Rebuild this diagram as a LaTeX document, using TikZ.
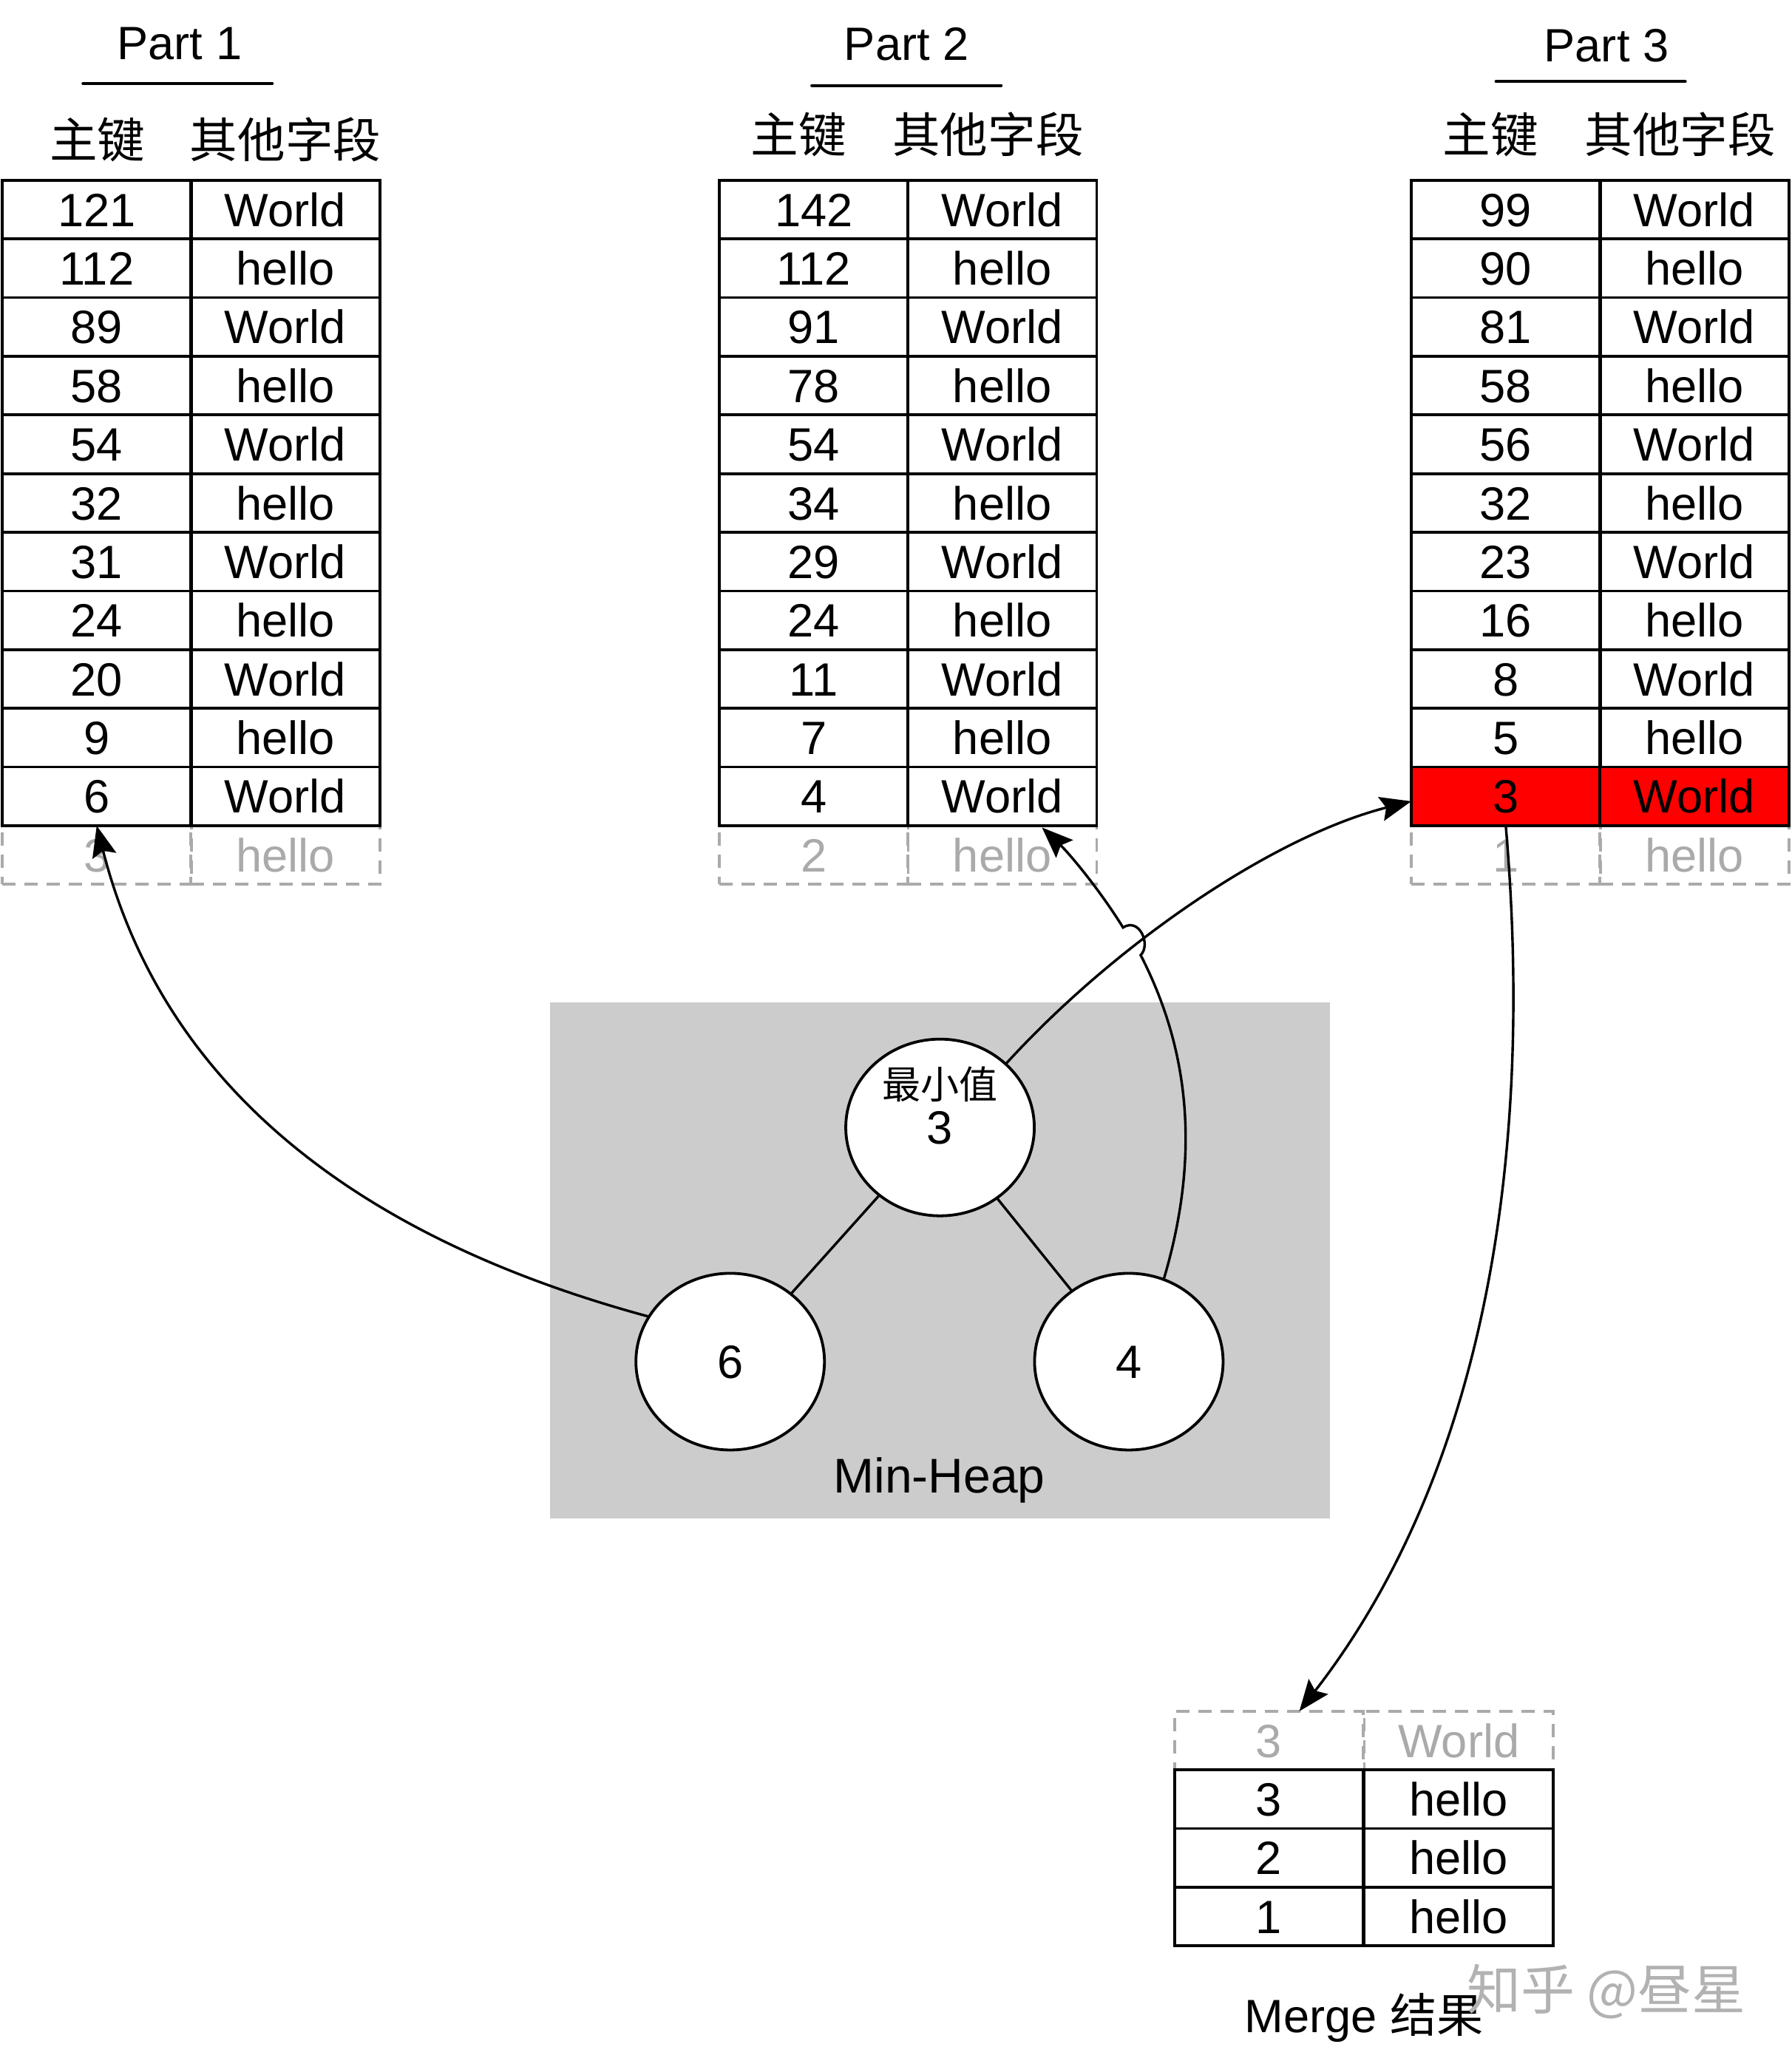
\documentclass[tikz,border=0pt]{standalone}
\usepackage{fontspec}
\setmainfont{Liberation Sans}
\newfontfamily\cjk{Noto Sans CJK SC}
\usetikzlibrary{arrows.meta,shapes.geometric}

\definecolor{gray1}{HTML}{AAAAAA}
\definecolor{heapgray}{HTML}{CCCCCC}
\tikzset{
  txt/.style={inner sep=0pt,outer sep=0pt,font=\fontsize{31.6}{36}\selectfont,text height=22.7pt,text depth=0pt},
  head/.style={txt,font=\fontsize{32.3}{36}\selectfont\cjk},
  cell/.style={txt,draw=black,line width=1.9pt,minimum width=127.8pt,minimum height=39.7pt},
  ghost/.style={cell,draw=gray1,text=gray1,dash pattern=on 9pt off 6pt},
  heapnode/.style={txt,ellipse,draw=black,fill=white,line width=1.9pt,minimum width=127.5pt,minimum height=119.5pt},
  title rule/.style={line width=1.9pt,line cap=round},
  conn/.style={line width=1.7pt},
  arr/.style={conn,-{Stealth[length=21pt,width=16.5pt,inset=3.5pt]}},
  row3-11/.style={fill=red},
}

% one part table: id, left edge, keys of the solid rows, key of the dashed row
\newcommand{\parttable}[4]{
  \node[ghost] (p#1k12) at ({#2+71.5},{137+11.5*44.6}) {#4};
  \node[ghost] (p#1v12) at ({#2+214.8},{137+11.5*44.6}) {hello};
  \foreach \k [count=\i] in {#3} {
    \ifodd\i \def\v{World}\else \def\v{hello}\fi
    \node[cell,row#1-\i/.try] (p#1k\i) at ({#2+71.5},{137+(\i-0.5)*44.6}) {\k};
    \node[cell,row#1-\i/.try] (p#1v\i) at ({#2+214.8},{137+(\i-0.5)*44.6}) {\v};
  }
}

\begin{document}
\begin{tikzpicture}[x=0.88985pt,y=-0.88985pt]
  \useasboundingbox (0,0) rectangle (1362,1566.6);

  % part titles and column heads
  \node[txt] (t1) at (136.5,32.5) {Part 1};
  \node[txt] (t2) at (689,33) {Part 2};
  \node[txt] (t3) at (1221,34) {Part 3};
  \draw[title rule] (63,63.5) -- (207,63.5);
  \draw[title rule] (617,65) -- (761,65);
  \draw[title rule] (1137,62) -- (1281,62);
  \node[head] (h1a) at (74,107) {主键};
  \node[head] (h1b) at (217,107) {其他字段};
  \node[head] (h2a) at (607,103) {主键};
  \node[head] (h2b) at (751,103) {其他字段};
  \node[head] (h3a) at (1133,103) {主键};
  \node[head] (h3b) at (1277,103) {其他字段};

  \parttable{1}{2}{121,112,89,58,54,32,31,24,20,9,6}{3}
  \parttable{2}{547}{142,112,91,78,54,34,29,24,11,7,4}{2}
  \parttable{3}{1073}{99,90,81,58,56,32,23,16,8,5,3}{1}

  % heap
  \fill[heapgray] (418,762) rectangle (1011,1154);
  \node[heapnode] (top) at (714.5,857) {};
  \node[heapnode] (left) at (555,1035) {6};
  \node[heapnode] (right) at (858,1035) {4};
  \node[txt,font=\fontsize{26}{30}\selectfont\cjk,text height=18.7pt] (minlabel) at (714.5,825) {最小值};
  \node[txt] (minval) at (714,857) {3};
  \node[txt,font=\fontsize{33}{36}\selectfont] (heaplabel) at (714,1122) {Min-Heap};
  \draw[conn] (top) -- (left);
  \draw[conn] (top) -- (right);

  % merge result
  \node[ghost] (m1k) at (964.5,1323) {3};
  \node[ghost] (m1v) at (1108.8,1323) {World};
  \node[cell] (m2k) at (964.5,1367.5) {3};
  \node[cell] (m2v) at (1108.8,1367.5) {hello};
  \node[cell] (m3k) at (964.5,1412.2) {2};
  \node[cell] (m3v) at (1108.8,1412.2) {hello};
  \node[cell] (m4k) at (964.5,1456.8) {1};
  \node[cell] (m4v) at (1108.8,1456.8) {hello};
  \node[txt] (mergelabel) at (1037,1532) {Merge {\cjk 结果}};
  \node[txt,font=\fontsize{36.5}{40}\selectfont\cjk,text=gray!60,text height=26pt] (mark) at (1221,1513) {知乎 @昼星};

  % connectors
  \coordinate (tip2) at (792,629);
  \coordinate (jumpa) at (867,726);
  \coordinate (jumpb) at (853.6,705);
  \draw[arr] (left.151) .. controls (250,935) and (120,810) .. (p1k11.south);
  \draw[arr] (right.67) .. controls (912,880) and (905,800) .. (jumpa)
    .. controls (875,718) and (866,697) .. (jumpb)
    .. controls (835,675) and (812,648) .. (tip2);
  \draw[arr] (top.44) .. controls (850,715) and (970,635) .. (p3k11.183);
  \draw[arr] (p3k11.south) .. controls (1168,900) and (1120,1130) .. (m1k.44);
\end{tikzpicture}
\end{document}
